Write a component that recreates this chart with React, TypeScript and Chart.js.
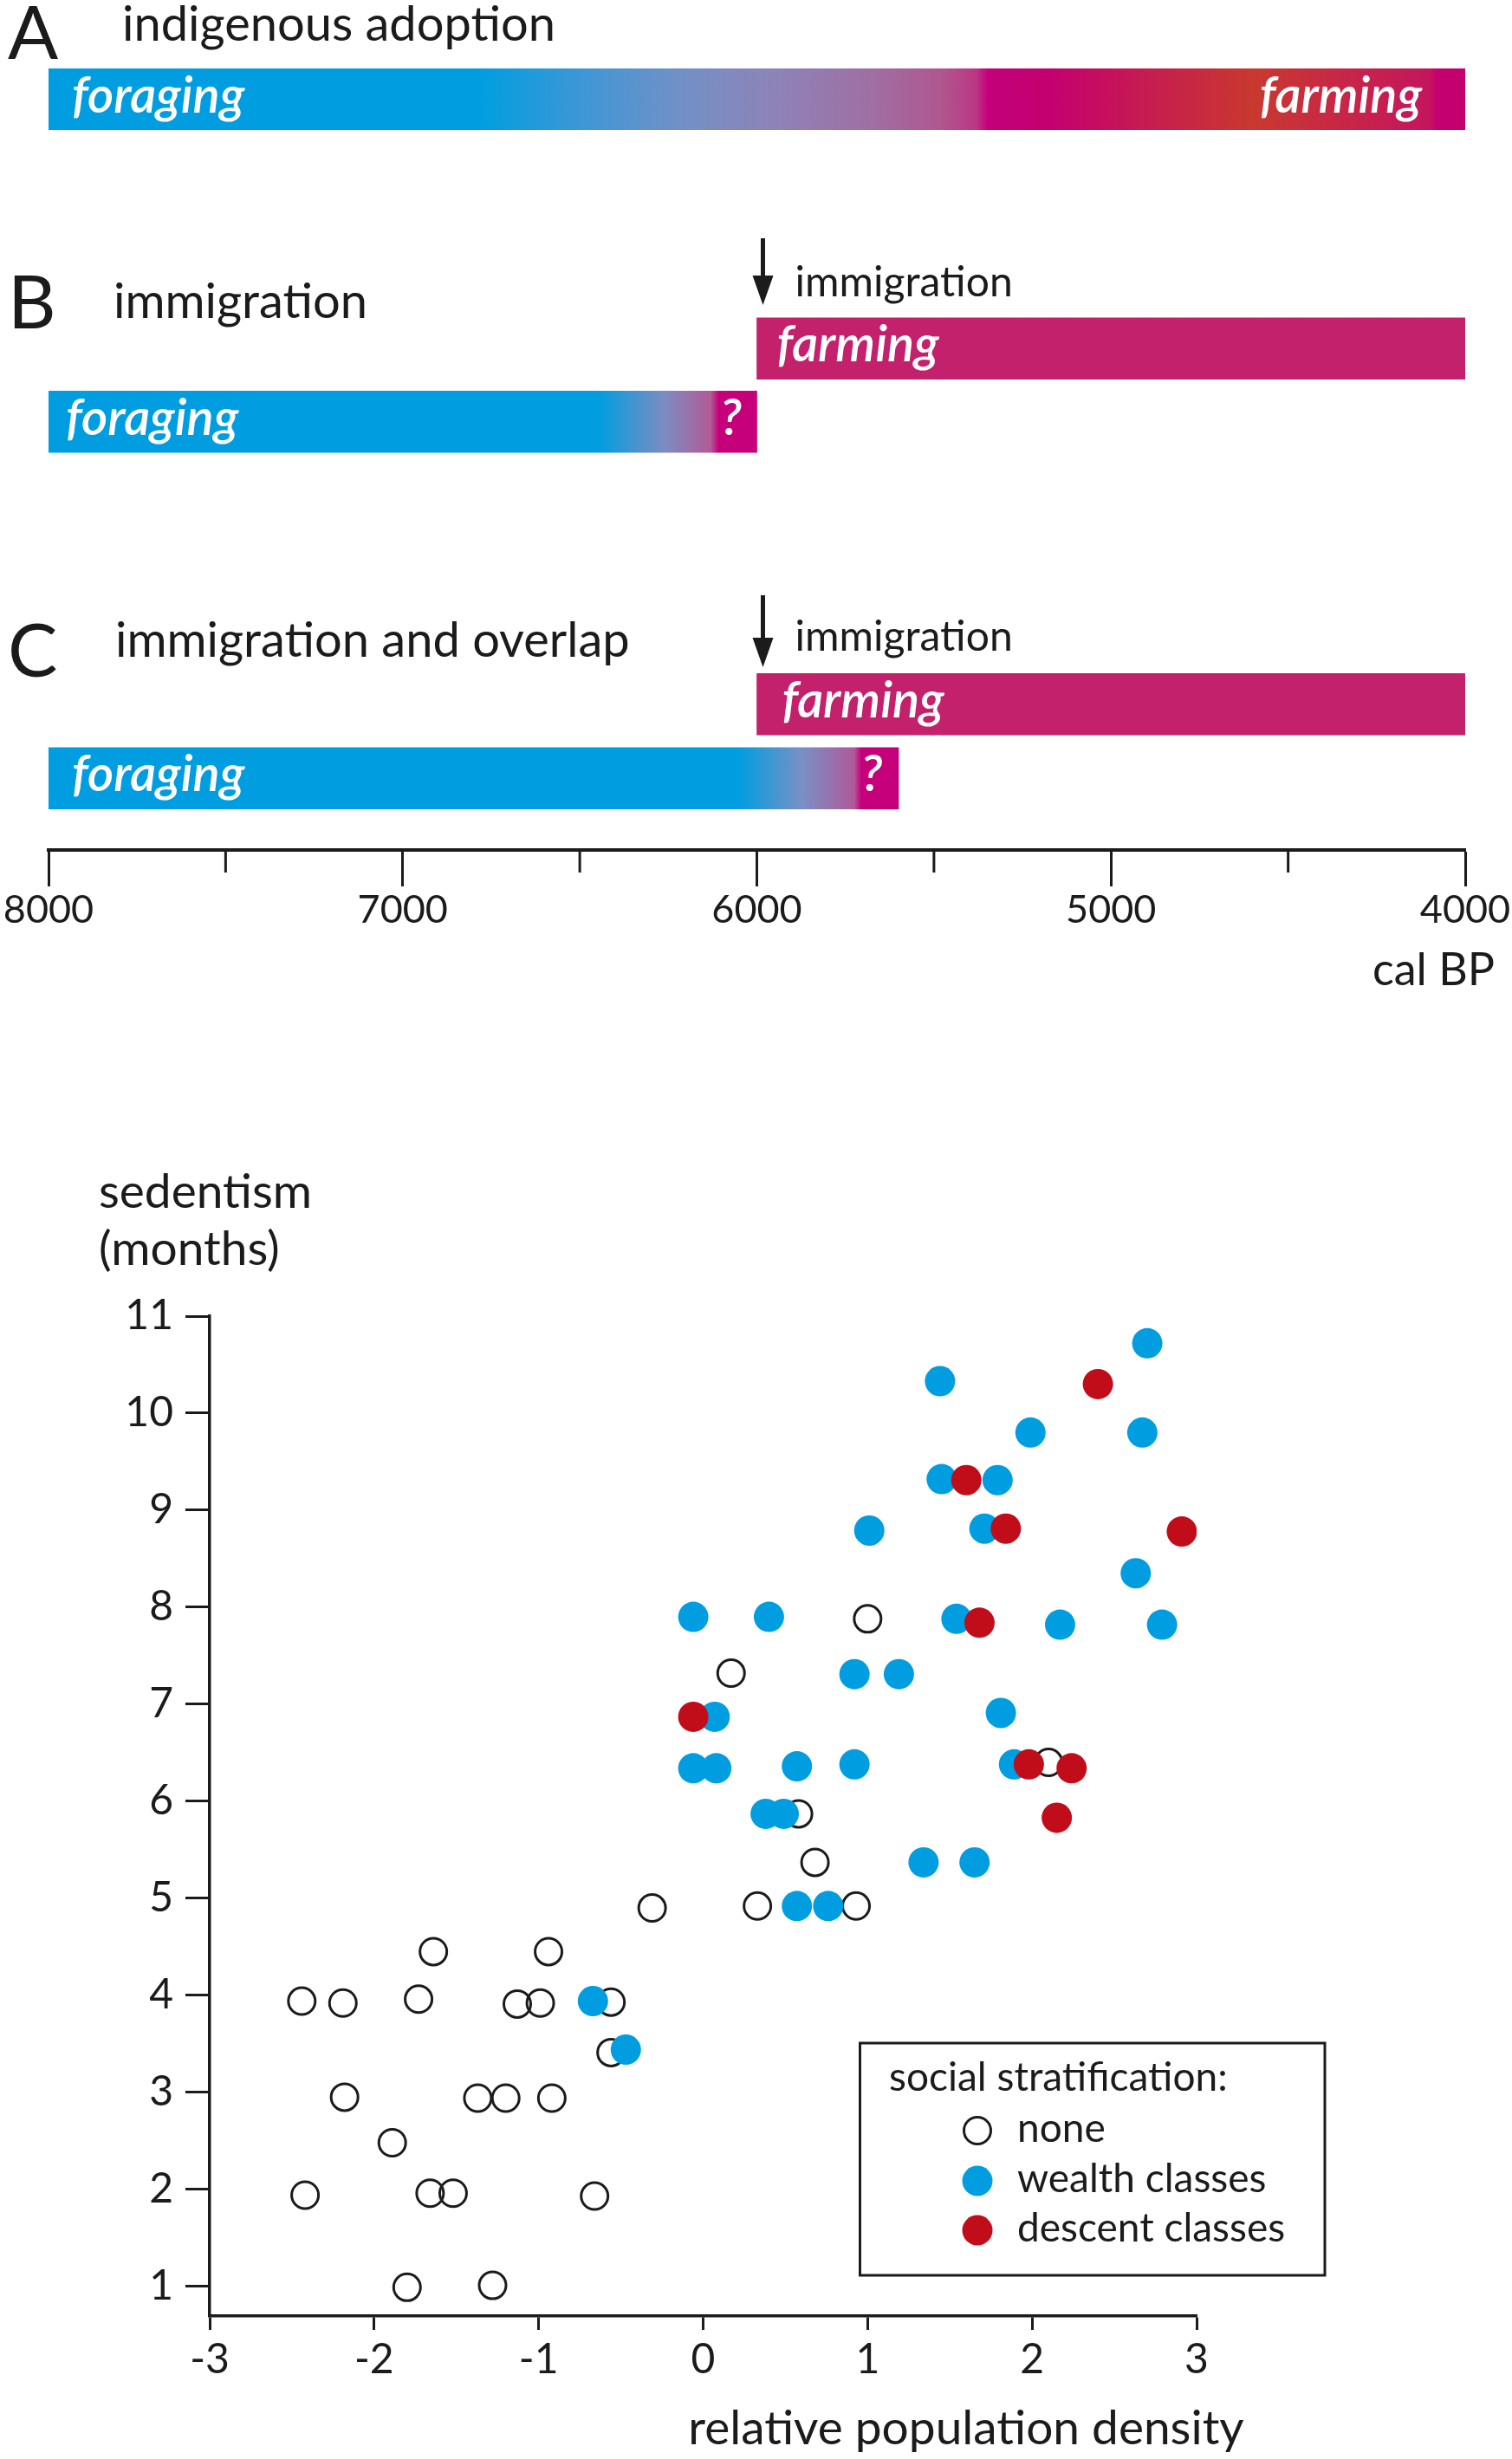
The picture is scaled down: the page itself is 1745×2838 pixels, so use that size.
import React, { useEffect, useRef } from "react";
import { Chart, registerables } from "chart.js";

Chart.register(...registerables);

const FONT = "Lato, 'Open Sans', 'DejaVu Sans', sans-serif";
const INK = "#1b1b1b";
const BLUE = "#009ee0";
const RED = "#c10d1a";
const MAGENTA = "#c5007a";
const FARMING = "#c3216c";
const PAGE_W = 1745;

// ---------------- timeline data (cal BP) ----------------
const timelineMin = 4000;
const timelineMax = 8000;
const timelineMajorTicks = [8000, 7000, 6000, 5000, 4000];
const timelineMinorTicks = [7500, 6500, 5500, 4500];
const immigrationYear = 6000;

const panelARows = ["foraging to farming"];
const panelAStart = [8000];
const panelAEnd = [4000];

const panelBRows = ["farming", "foraging"];
const panelBStart = [6000, 8000];
const panelBEnd = [4000, 6000];

const panelCRows = ["farming", "foraging"];
const panelCStart = [6000, 8000];
const panelCEnd = [4000, 5600];

// ---------------- scatter data ----------------
const seriesNames = ["none", "wealth classes", "descent classes"];

const noneX = [-2.44, -2.19, -1.64, -1.73, -0.94, -1.13, -0.99, -0.56, -0.56, -0.31, -2.18, -1.37, -1.2, -0.92, -1.89, -2.42, -1.66, -1.52, -0.66, -1.8, -1.28, 1.0, 0.17, 2.1, 0.58, 0.68, 0.33, 0.93];
const noneY = [3.94, 3.92, 4.45, 3.96, 4.45, 3.91, 3.92, 3.93, 3.41, 4.9, 2.95, 2.94, 2.94, 2.94, 2.48, 1.94, 1.96, 1.96, 1.93, 0.99, 1.01, 7.88, 7.32, 6.4, 5.87, 5.37, 4.92, 4.92];

const wealthX = [-0.67, -0.47, 2.7, 1.44, 1.99, 2.67, 1.45, 1.79, 1.01, 1.71, 2.63, -0.06, 0.4, 1.54, 2.17, 2.79, 0.92, 1.19, 0.07, 1.81, -0.06, 0.08, 0.57, 0.92, 1.89, 0.38, 0.49, 1.34, 1.65, 0.57, 0.76];
const wealthY = [3.94, 3.44, 10.72, 10.33, 9.8, 9.8, 9.32, 9.31, 8.79, 8.81, 8.35, 7.9, 7.9, 7.88, 7.82, 7.82, 7.31, 7.31, 6.87, 6.91, 6.34, 6.34, 6.36, 6.38, 6.38, 5.87, 5.87, 5.37, 5.37, 4.92, 4.92];

const descentX = [2.4, 1.6, 1.84, 2.91, 1.68, -0.06, 1.98, 2.24, 2.15];
const descentY = [10.3, 9.31, 8.81, 8.78, 7.84, 6.87, 6.38, 6.34, 5.83];

const scatterXTicks = [-3, -2, -1, 0, 1, 2, 3];
const scatterYTicks = [1, 2, 3, 4, 5, 6, 7, 8, 9, 10, 11];
const scatterXMin = -3;
const scatterXMax = 3;
const scatterYMin = 0.694;
const scatterYMax = 11;

// ---------------- styles ----------------
type Stop = [number, string];
const fillA: Stop[] = [
  [0, BLUE], [0.305, BLUE], [0.375, "#3d97d6"], [0.445, "#7190c6"], [0.51, "#8c84b8"],
  [0.58, "#a06fa3"], [0.63, "#b0578f"], [0.655, "#bb3684"], [0.663, "#c4007a"], [0.707, "#c4006f"],
  [0.85, "#c9392f"], [0.975, "#c5155e"], [0.98, "#c4006f"], [1, "#c4006f"],
];
const fillBForaging: Stop[] = [
  [0, BLUE], [0.776, BLUE], [0.87, "#7d8cc2"], [0.935, "#b25a96"], [0.946, MAGENTA], [1, MAGENTA],
];
const fillCForaging: Stop[] = [
  [0, BLUE], [0.812, BLUE], [0.886, "#7890c6"], [0.948, "#b0599a"], [0.956, MAGENTA], [1, MAGENTA],
];
const fillFarming: Stop[] = [[0, FARMING], [1, FARMING]];

const BAR_THICKNESS = 71;
const BAR_FONT = 58;
const LETTER_FONT = 86;
const TITLE_FONT = 56;
const ARROW_LABEL_FONT = 48;

function barFill(stopsPerRow: Stop[][]) {
  return (c: any) => {
    const stops = stopsPerRow[c.dataIndex] || fillFarming;
    const chart = c.chart;
    const xs = chart.scales && chart.scales.x;
    const raw = c.raw;
    if (!xs || !chart.chartArea || !Array.isArray(raw)) return stops[0][1];
    const a = xs.getPixelForValue(raw[0]);
    const b = xs.getPixelForValue(raw[1]);
    if (!isFinite(a) || !isFinite(b) || a === b) return stops[0][1];
    const g = chart.ctx.createLinearGradient(Math.min(a, b), 0, Math.max(a, b), 0);
    for (const [f, col] of stops) g.addColorStop(f, col);
    return g;
  };
}

type BarLabel = { text: string; side: "left" | "right" | "end"; offset: number };
type PanelSpec = {
  letter: string;
  letterBaseline: number;
  title: string;
  titleX: number;
  titleBaseline: number;
  arrow?: { top: number; tip: number; labelBaseline: number };
  labels: BarLabel[][];
};

function panelPlugin(spec: PanelSpec) {
  return {
    id: "panelText",
    afterDatasetsDraw(chart: any) {
      const ctx = chart.ctx;
      const meta = chart.getDatasetMeta(0);
      ctx.save();
      ctx.fillStyle = "#ffffff";
      ctx.font = `italic 600 ${BAR_FONT}px ${FONT}`;
      ctx.textBaseline = "alphabetic";
      meta.data.forEach((el: any, i: number) => {
        const p = el.getProps(["x", "base", "y"], true);
        const left = Math.min(p.x, p.base);
        const right = Math.max(p.x, p.base);
        const y = p.y + 15;
        (spec.labels[i] || []).forEach((l) => {
          if (l.side === "left") {
            ctx.textAlign = "left";
            ctx.fillText(l.text, left + l.offset, y);
          } else if (l.side === "right") {
            ctx.textAlign = "right";
            ctx.fillText(l.text, right - l.offset, y);
          } else {
            ctx.textAlign = "center";
            ctx.fillText(l.text, right - l.offset, y);
          }
        });
      });
      ctx.fillStyle = INK;
      ctx.textAlign = "left";
      ctx.font = `400 ${LETTER_FONT}px ${FONT}`;
      ctx.fillText(spec.letter, 9, spec.letterBaseline);
      ctx.font = `400 ${TITLE_FONT}px ${FONT}`;
      ctx.fillText(spec.title, spec.titleX, spec.titleBaseline);
      if (spec.arrow) {
        const ax = chart.scales.x.getPixelForValue(immigrationYear) + 7;
        const headH = 34;
        const headW = 24;
        ctx.strokeStyle = INK;
        ctx.lineWidth = 5;
        ctx.beginPath();
        ctx.moveTo(ax, spec.arrow.top);
        ctx.lineTo(ax, spec.arrow.tip - headH + 4);
        ctx.stroke();
        ctx.beginPath();
        ctx.moveTo(ax - headW / 2, spec.arrow.tip - headH);
        ctx.lineTo(ax + headW / 2, spec.arrow.tip - headH);
        ctx.lineTo(ax, spec.arrow.tip);
        ctx.closePath();
        ctx.fill();
        ctx.font = `400 ${ARROW_LABEL_FONT}px ${FONT}`;
        ctx.fillText("immigration", ax + 37, spec.arrow.labelBaseline);
      }
      ctx.restore();
    },
  };
}

function makePanel(
  rows: string[],
  starts: number[],
  ends: number[],
  fills: Stop[][],
  padTop: number,
  padBottom: number,
  spec: PanelSpec
) {
  return () => ({
    type: "bar",
    data: {
      labels: rows,
      datasets: [
        {
          data: rows.map((_, i) => [starts[i], ends[i]]),
          backgroundColor: barFill(fills),
          borderWidth: 0,
          borderSkipped: false,
          barThickness: BAR_THICKNESS,
        },
      ],
    },
    options: {
      indexAxis: "y",
      responsive: false,
      maintainAspectRatio: false,
      animation: false,
      events: [],
      layout: { padding: { left: 56, right: 54, top: padTop, bottom: padBottom } },
      plugins: { legend: { display: false }, tooltip: { enabled: false } },
      scales: {
        x: { type: "linear", min: timelineMin, max: timelineMax, reverse: true, display: false },
        y: { type: "category", display: false, offset: true },
      },
    },
    plugins: [panelPlugin(spec)],
  });
}

const makePanelA = makePanel(panelARows, panelAStart, panelAEnd, [fillA], 79, 20, {
  letter: "A",
  letterBaseline: 68,
  title: "indigenous adoption",
  titleX: 141,
  titleBaseline: 47,
  labels: [[{ text: "foraging", side: "left", offset: 27 }, { text: "farming", side: "right", offset: 50 }]],
});

// canvas B top = 260
const makePanelB = makePanel(panelBRows, panelBStart, panelBEnd, [fillFarming, fillBForaging], 100, 11, {
  letter: "B",
  letterBaseline: 119,
  title: "immigration",
  titleX: 131,
  titleBaseline: 107,
  arrow: { top: 15, tip: 92, labelBaseline: 82 },
  labels: [
    [{ text: "farming", side: "left", offset: 23 }],
    [{ text: "foraging", side: "left", offset: 20 }, { text: "?", side: "end", offset: 30 }],
  ],
});

// canvas C top = 660
const makePanelC = makePanel(panelCRows, panelCStart, panelCEnd, [fillFarming, fillCForaging], 110, 19, {
  letter: "C",
  letterBaseline: 121,
  title: "immigration and overlap",
  titleX: 133,
  titleBaseline: 98,
  arrow: { top: 27, tip: 110, labelBaseline: 91 },
  labels: [
    [{ text: "farming", side: "left", offset: 29 }],
    [{ text: "foraging", side: "left", offset: 27 }, { text: "?", side: "end", offset: 31 }],
  ],
});

// canvas axis top = 955, height 215; axis line at page y 981
const AXIS_TOP = 955;
const AXIS_H = 215;
const axisExtras = {
  id: "axisExtras",
  afterDraw(chart: any) {
    const ctx = chart.ctx;
    const xs = chart.scales.x;
    ctx.save();
    ctx.strokeStyle = INK;
    ctx.lineWidth = 3;
    timelineMinorTicks.forEach((yr) => {
      const x = xs.getPixelForValue(yr);
      ctx.beginPath();
      ctx.moveTo(x, xs.top);
      ctx.lineTo(x, xs.top + 26);
      ctx.stroke();
    });
    ctx.fillStyle = INK;
    ctx.font = `400 52px ${FONT}`;
    ctx.textAlign = "right";
    ctx.textBaseline = "alphabetic";
    ctx.fillText("cal BP", 1725, 1137 - AXIS_TOP);
    ctx.restore();
  },
};

function makeAxis() {
  return {
    type: "scatter",
    data: { datasets: [] },
    options: {
      responsive: false,
      maintainAspectRatio: false,
      animation: false,
      events: [],
      layout: { padding: { left: 56, right: 54, top: 6, bottom: 0 } },
      plugins: { legend: { display: false }, tooltip: { enabled: false } },
      scales: {
        x: {
          type: "linear",
          position: "bottom",
          min: timelineMin,
          max: timelineMax,
          reverse: true,
          afterBuildTicks: (s: any) => {
            s.ticks = timelineMajorTicks.map((v) => ({ value: v }));
          },
          afterFit: (s: any) => {
            s.height = AXIS_H - (981 - AXIS_TOP);
          },
          grid: { drawOnChartArea: false, tickLength: 42, tickWidth: 3, tickColor: INK },
          border: { width: 4, color: INK },
          ticks: {
            color: INK,
            font: { family: FONT, size: 45 },
            padding: 0,
            maxRotation: 0,
            autoSkip: false,
            callback: (v: any) => String(v),
          },
        },
        y: { display: false, min: 0, max: 1 },
      },
    },
    plugins: [axisExtras],
  };
}

// ---------------- scatter ----------------
const SC_TOP = 1300;
const SC_H = 1538;
const zip = (xs: number[], ys: number[]) => xs.map((x, i) => ({ x, y: ys[i] }));

const scatterDecor = {
  id: "scatterDecor",
  afterDraw(chart: any) {
    const ctx = chart.ctx;
    const ds = chart.data.datasets;
    ctx.save();
    ctx.fillStyle = INK;
    ctx.textBaseline = "alphabetic";
    ctx.font = `400 55px ${FONT}`;
    ctx.textAlign = "left";
    ctx.fillText("sedentism", 114, 1394 - SC_TOP);
    ctx.fillText("(months)", 114, 1460 - SC_TOP);
    ctx.textAlign = "center";
    ctx.fillText("relative population density", 1115, 2821 - SC_TOP);

    // legend box
    const bx = 992.5, by = 2358 - SC_TOP, bw = 536.5, bh = 268;
    ctx.strokeStyle = INK;
    ctx.lineWidth = 3;
    ctx.strokeRect(bx, by, bw, bh);
    ctx.textAlign = "left";
    ctx.font = `400 46px ${FONT}`;
    ctx.fillText("social stratification:", 1026, 2413 - SC_TOP);
    const rowsY = [2459, 2517, 2574];
    ds.forEach((d: any, i: number) => {
      const cy = rowsY[i] - SC_TOP;
      const cx = 1128;
      ctx.beginPath();
      ctx.arc(cx, cy, d.pointRadius, 0, Math.PI * 2);
      if (d.borderWidth > 0) {
        ctx.lineWidth = d.borderWidth;
        ctx.strokeStyle = d.borderColor;
        ctx.stroke();
      } else {
        ctx.fillStyle = d.backgroundColor;
        ctx.fill();
      }
      ctx.fillStyle = INK;
      ctx.fillText(d.label, 1174, cy + 13);
    });
    ctx.restore();
  },
};

function makeScatter() {
  const tickFont = { family: FONT, size: 48 };
  return {
    type: "scatter",
    data: {
      datasets: [
        {
          label: seriesNames[0],
          data: zip(noneX, noneY),
          pointRadius: 15.5,
          borderWidth: 3,
          borderColor: INK,
          backgroundColor: "rgba(0,0,0,0)",
          order: 3,
        },
        {
          label: seriesNames[1],
          data: zip(wealthX, wealthY),
          pointRadius: 17.5,
          borderWidth: 0,
          borderColor: BLUE,
          backgroundColor: BLUE,
          order: 2,
        },
        {
          label: seriesNames[2],
          data: zip(descentX, descentY),
          pointRadius: 17.5,
          borderWidth: 0,
          borderColor: RED,
          backgroundColor: RED,
          order: 1,
        },
      ],
    },
    options: {
      responsive: false,
      maintainAspectRatio: false,
      animation: false,
      events: [],
      layout: { padding: { left: 0, right: PAGE_W - 1381, top: 1519 - SC_TOP, bottom: 0 } },
      plugins: { legend: { display: false }, tooltip: { enabled: false } },
      scales: {
        x: {
          type: "linear",
          min: scatterXMin,
          max: scatterXMax,
          afterBuildTicks: (s: any) => {
            s.ticks = scatterXTicks.map((v) => ({ value: v }));
          },
          afterFit: (s: any) => {
            s.height = SC_H - (2673 - SC_TOP);
          },
          grid: { drawOnChartArea: false, tickLength: 16, tickWidth: 3, tickColor: INK },
          border: { width: 3.5, color: INK },
          ticks: { color: INK, font: tickFont, padding: 6, maxRotation: 0, autoSkip: false, callback: (v: any) => String(v) },
        },
        y: {
          type: "linear",
          min: scatterYMin,
          max: scatterYMax,
          afterBuildTicks: (s: any) => {
            s.ticks = scatterYTicks.map((v) => ({ value: v }));
          },
          afterFit: (s: any) => {
            s.width = 242;
          },
          grid: { drawOnChartArea: false, tickLength: 28, tickWidth: 3, tickColor: INK },
          border: { width: 3.5, color: INK },
          ticks: { color: INK, font: tickFont, padding: 14, autoSkip: false, callback: (v: any) => String(v) },
        },
      },
    },
    plugins: [scatterDecor],
  };
}

function ChartCanvas({ top, height, make }: { top: number; height: number; make: () => any }) {
  const ref = useRef<HTMLCanvasElement>(null);
  useEffect(() => {
    if (!ref.current) return;
    const chart = new Chart(ref.current, make());
    return () => chart.destroy();
  }, [make]);
  return (
    <canvas
      ref={ref}
      width={PAGE_W}
      height={height}
      style={{ position: "absolute", left: 0, top, width: PAGE_W, height, display: "block" }}
    />
  );
}

export default function App() {
  return (
    <div style={{ position: "absolute", left: 0, top: 0, width: PAGE_W, height: 2838, background: "#ffffff", overflow: "hidden" }}>
      <ChartCanvas top={0} height={170} make={makePanelA} />
      <ChartCanvas top={260} height={280} make={makePanelB} />
      <ChartCanvas top={660} height={300} make={makePanelC} />
      <ChartCanvas top={AXIS_TOP} height={AXIS_H} make={makeAxis} />
      <ChartCanvas top={SC_TOP} height={SC_H} make={makeScatter} />
    </div>
  );
}
